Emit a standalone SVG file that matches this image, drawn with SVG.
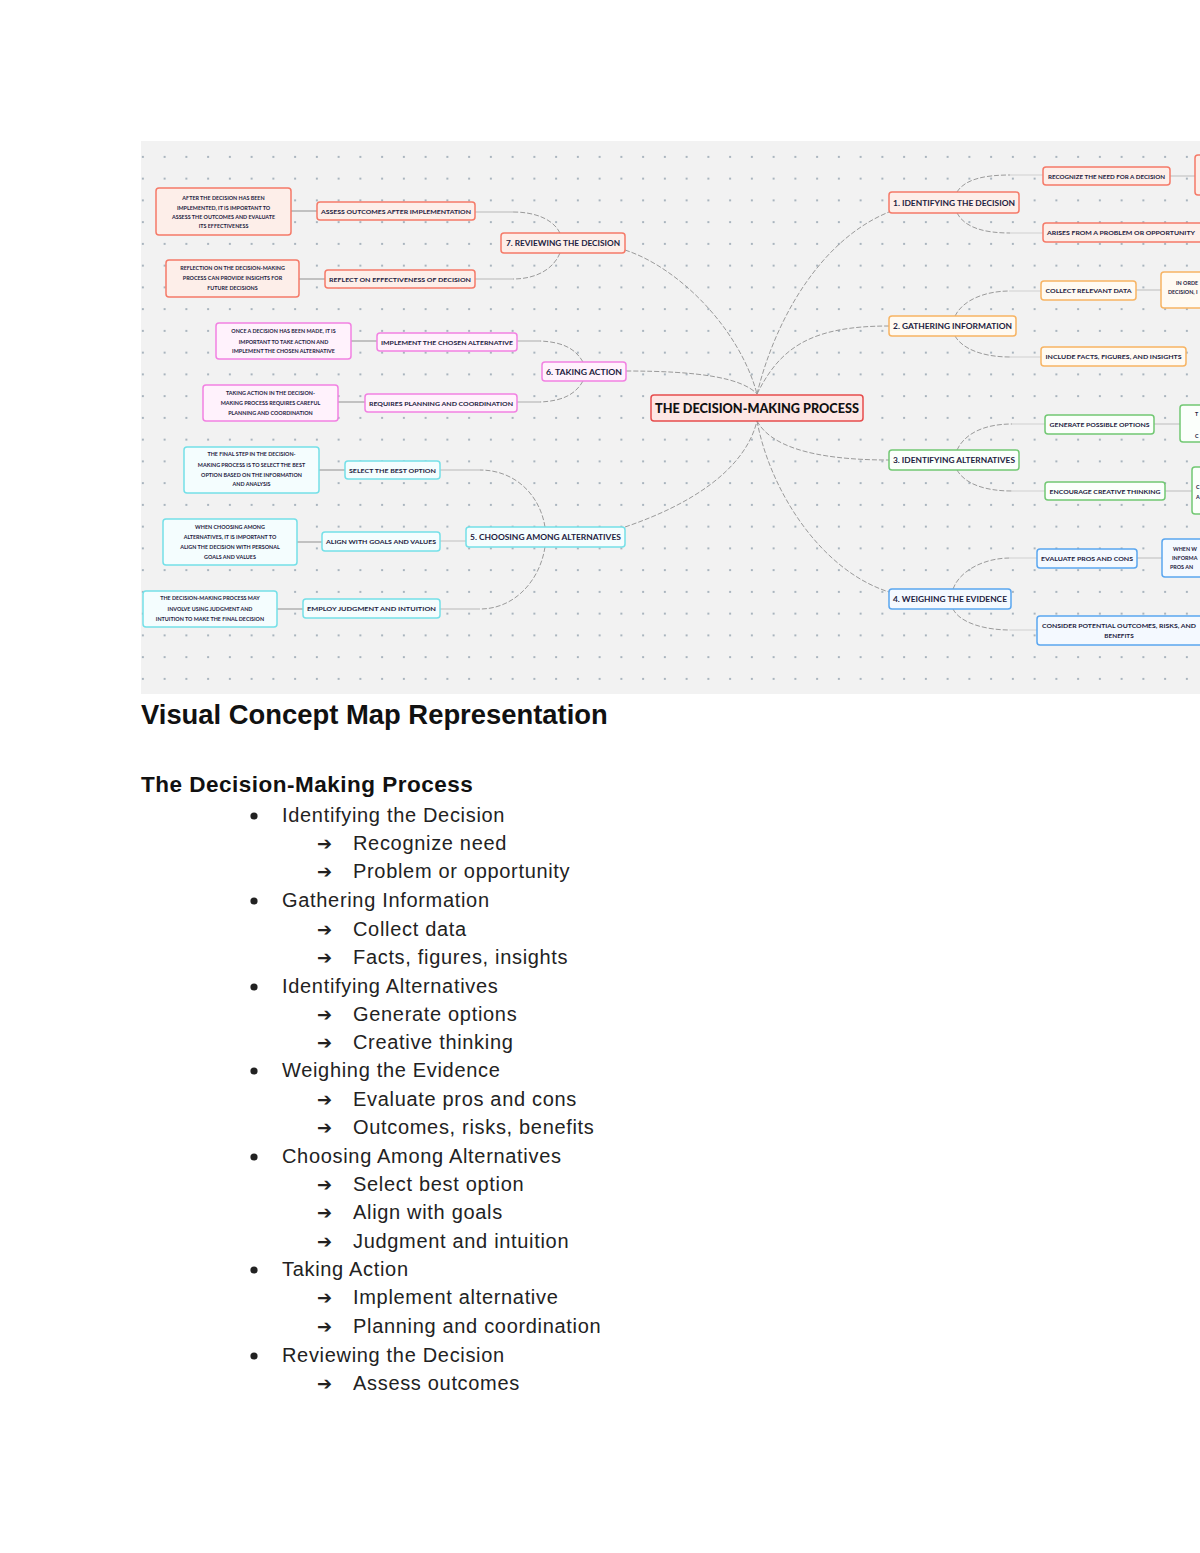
<svg xmlns="http://www.w3.org/2000/svg" width="1200" height="1553" viewBox="0 0 1200 1553">
<defs>
<pattern id="dots" x="132" y="146" width="21.75" height="21.75" patternUnits="userSpaceOnUse">
<circle cx="10.875" cy="10.875" r="1.1" fill="#98a6b2"/>
</pattern>
<clipPath id="mapclip"><rect x="141" y="141" width="1059" height="553"/></clipPath>
</defs>
<style>
.lbl{font-family:Lato,"Noto Sans","DejaVu Sans",sans-serif;font-weight:bold;fill:#1c2140;text-anchor:middle}
.main{font-size:7.5px}
.sub{font-size:6.4px}
.desc{font-size:5.4px}
.center{font-size:12.5px;font-weight:900;fill:#111}
.red rect{fill:#fdeee9;stroke:#f57a68;stroke-width:1.5}
.ora rect{fill:#fffaf2;stroke:#f7b463;stroke-width:1.5}
.grn rect{fill:#fbfffb;stroke:#72c873;stroke-width:1.5}
.blu rect{fill:#f4f9ff;stroke:#5aa6f0;stroke-width:1.5}
.cya rect{fill:#f4fdfe;stroke:#74e0e8;stroke-width:1.5}
.mag rect{fill:#fff2fc;stroke:#f281e2;stroke-width:1.5}
.cen rect{fill:#fde6e4;stroke:#e64c4c;stroke-width:1.5}
.dash{fill:none;stroke:#9a9a9a;stroke-width:1;stroke-dasharray:5 2}
.solid{fill:none;stroke:#b4b4b4;stroke-width:1.6}
.thin{fill:none;stroke:#d0d0d0;stroke-width:1}
.mid{fill:none;stroke:#b8b8b8;stroke-width:1.2}
.doc{font-family:"Liberation Sans",Arial,sans-serif;fill:#222}
.h1{font-size:27.4px;font-weight:bold;fill:#111}
.h2{font-size:22.5px;font-weight:bold;fill:#111;letter-spacing:0.5px}
.li{font-size:20px;letter-spacing:0.68px}
.arr{font-family:"DejaVu Sans",sans-serif;font-size:18px;fill:#222}
</style>
<rect width="1200" height="1553" fill="#ffffff"/>
<g clip-path="url(#mapclip)">
<rect x="141" y="141" width="1059" height="553" fill="#f2f2f2"/>
<rect x="141" y="141" width="1059" height="553" fill="url(#dots)"/>

<g id="connectors">
<path class="dash" d="M625,250 C680,268 740,330 757,394"/>
<path class="dash" d="M626,371 C700,371 742,378 757,394"/>
<path class="dash" d="M757,394 C775,320 820,240 889,212"/>
<path class="dash" d="M757,394 C780,348 810,326 889,326"/>
<path class="dash" d="M625,527 C690,505 745,470 757,421"/>
<path class="dash" d="M757,421 C770,445 810,460 889,460"/>
<path class="dash" d="M757,421 C770,490 820,570 889,592"/>
<path class="dash" d="M957,192 C965,179 985,175 1010,175"/><path class="thin" d="M1010,175 L1043,175"/>
<path class="dash" d="M957,213 C965,228 985,233 1010,233"/><path class="thin" d="M1010,233 L1043,233"/>
<path class="dash" d="M955,316 C963,300 985,291 1010,291"/><path class="thin" d="M1010,291 L1041,291"/>
<path class="dash" d="M955,336 C963,350 985,357 1010,357"/><path class="thin" d="M1010,357 L1041,357"/>
<path class="dash" d="M957,450 C965,433 985,424 1012,424"/><path class="thin" d="M1012,424 L1045,424"/>
<path class="dash" d="M957,470 C965,484 985,491 1012,491"/><path class="thin" d="M1012,491 L1045,491"/>
<path class="dash" d="M953,589 C960,570 985,558 1010,558"/><path class="thin" d="M1010,558 L1037,558"/>
<path class="dash" d="M953,609 C960,623 985,630 1010,630"/><path class="thin" d="M1010,630 L1037,630"/>
<path class="dash" d="M560,233 C553,219 535,212 513,212"/><path class="mid" d="M513,212 L475,212"/>
<path class="dash" d="M560,253 C553,270 535,279 513,279"/><path class="mid" d="M513,279 L475,279"/>
<path class="dash" d="M583,362 C575,348 562,342 540,341"/><path class="mid" d="M540,341 L517,341"/>
<path class="dash" d="M583,381 C575,395 562,401 540,402"/><path class="mid" d="M540,402 L517,402"/>
<path class="dash" d="M545,527 C540,495 515,470 480,470"/><path class="mid" d="M480,470 L440,470"/>
<path class="dash" d="M545,547 C540,580 515,609 480,609"/><path class="mid" d="M480,609 L440,609"/>
<path class="mid" d="M466,541 L440,541" style="stroke:#c8c8c8"/>
<path class="solid" d="M317,211 L291,211"/>
<path class="solid" d="M325,279 L299,279"/>
<path class="solid" d="M377,341 L351,341"/>
<path class="solid" d="M365,402 L338,402"/>
<path class="solid" d="M345,470 L319,470"/>
<path class="solid" d="M322,542 L297,542"/>
<path class="solid" d="M303,609 L277,609"/>
<path class="solid" d="M1169,176 L1195,176" style="stroke:#d0d0d0"/>
<path class="solid" d="M1136,290 L1161,290" style="stroke:#d0d0d0"/>
<path class="solid" d="M1154,424 L1180,424" style="stroke:#d0d0d0"/>
<path class="solid" d="M1165,491 L1192,491" style="stroke:#d0d0d0"/>
<path class="solid" d="M1137,558 L1162,558" style="stroke:#d0d0d0"/>
</g>

<g id="center" class="cen"><rect x="651" y="395" width="212" height="26" rx="3"/><text class="lbl center" x="757" y="412.5" textLength="204" lengthAdjust="spacingAndGlyphs">THE DECISION-MAKING PROCESS</text></g>

<g id="n1" class="red"><rect x="889" y="192" width="130" height="21" rx="3"/><text class="lbl main" x="954" y="205.5" textLength="122" lengthAdjust="spacingAndGlyphs">1. IDENTIFYING THE DECISION</text></g>
<g id="n1a" class="red"><rect x="1043" y="167" width="127" height="18" rx="3"/><text class="lbl sub" x="1106.5" y="178.5" textLength="117" lengthAdjust="spacingAndGlyphs">RECOGNIZE THE NEED FOR A DECISION</text></g>
<g id="n1b" class="red"><rect x="1043" y="223" width="170" height="19" rx="3"/><text class="lbl sub" x="1121" y="235" textLength="148" lengthAdjust="spacingAndGlyphs">ARISES FROM A PROBLEM OR OPPORTUNITY</text></g>
<g id="n1d" class="red"><rect x="1195" y="155" width="60" height="40" rx="3"/></g>

<g id="n2" class="ora"><rect x="889" y="316" width="127" height="20" rx="3"/><text class="lbl main" x="952.5" y="329" textLength="119" lengthAdjust="spacingAndGlyphs">2. GATHERING INFORMATION</text></g>
<g id="n2a" class="ora"><rect x="1041" y="281" width="95" height="19" rx="3"/><text class="lbl sub" x="1088.5" y="293" textLength="86" lengthAdjust="spacingAndGlyphs">COLLECT RELEVANT DATA</text></g>
<g id="n2b" class="ora"><rect x="1041" y="347" width="145" height="19" rx="3"/><text class="lbl sub" x="1113.5" y="359" textLength="136" lengthAdjust="spacingAndGlyphs">INCLUDE FACTS, FIGURES, AND INSIGHTS</text></g>
<g id="n2d" class="ora"><rect x="1161" y="272" width="120" height="36" rx="3"/><text class="lbl desc" x="1176" y="285" style="text-anchor:start">IN ORDE</text><text class="lbl desc" x="1168" y="294" style="text-anchor:start">DECISION, I</text></g>

<g id="n3" class="grn"><rect x="889" y="450" width="130" height="20" rx="3"/><text class="lbl main" x="954" y="463" textLength="122" lengthAdjust="spacingAndGlyphs">3. IDENTIFYING ALTERNATIVES</text></g>
<g id="n3a" class="grn"><rect x="1045" y="415" width="109" height="19" rx="3"/><text class="lbl sub" x="1099.5" y="427" textLength="100" lengthAdjust="spacingAndGlyphs">GENERATE POSSIBLE OPTIONS</text></g>
<g id="n3b" class="grn"><rect x="1045" y="482" width="120" height="18" rx="3"/><text class="lbl sub" x="1105" y="493.5" textLength="111" lengthAdjust="spacingAndGlyphs">ENCOURAGE CREATIVE THINKING</text></g>
<g id="n3d1" class="grn"><rect x="1180" y="405" width="80" height="37" rx="3"/><text class="lbl desc" x="1195" y="416" style="text-anchor:start">T</text><text class="lbl desc" x="1195" y="438" style="text-anchor:start">C</text></g>
<g id="n3d2" class="grn"><rect x="1192" y="467" width="80" height="47" rx="3"/><text class="lbl desc" x="1196" y="489" style="text-anchor:start">C</text><text class="lbl desc" x="1196" y="499" style="text-anchor:start">A</text></g>

<g id="n4" class="blu"><rect x="889" y="589" width="122" height="20" rx="3"/><text class="lbl main" x="950" y="602" textLength="114" lengthAdjust="spacingAndGlyphs">4. WEIGHING THE EVIDENCE</text></g>
<g id="n4a" class="blu"><rect x="1037" y="549" width="100" height="19" rx="3"/><text class="lbl sub" x="1087" y="561" textLength="92" lengthAdjust="spacingAndGlyphs">EVALUATE PROS AND CONS</text></g>
<g id="n4b" class="blu"><rect x="1037" y="616" width="175" height="29" rx="3"/><text class="lbl sub" x="1119" y="628" textLength="154" lengthAdjust="spacingAndGlyphs">CONSIDER POTENTIAL OUTCOMES, RISKS, AND</text><text class="lbl sub" x="1119" y="638">BENEFITS</text></g>
<g id="n4d" class="blu"><rect x="1162" y="539" width="120" height="38" rx="3"/><text class="lbl desc" x="1173" y="551" style="text-anchor:start">WHEN W</text><text class="lbl desc" x="1172" y="560" style="text-anchor:start">INFORMA</text><text class="lbl desc" x="1170" y="569" style="text-anchor:start">PROS AN</text></g>

<g id="n5" class="cya"><rect x="466" y="527" width="159" height="20" rx="3"/><text class="lbl main" x="545.5" y="540" textLength="151" lengthAdjust="spacingAndGlyphs">5. CHOOSING AMONG ALTERNATIVES</text></g>
<g id="n5a" class="cya"><rect x="345" y="461" width="95" height="18" rx="3"/><text class="lbl sub" x="392.5" y="472.5" textLength="87" lengthAdjust="spacingAndGlyphs">SELECT THE BEST OPTION</text></g>
<g id="n5b" class="cya"><rect x="322" y="532" width="118" height="19" rx="3"/><text class="lbl sub" x="381" y="544" textLength="110" lengthAdjust="spacingAndGlyphs">ALIGN WITH GOALS AND VALUES</text></g>
<g id="n5c" class="cya"><rect x="303" y="599" width="137" height="19" rx="3"/><text class="lbl sub" x="371.5" y="611" textLength="129" lengthAdjust="spacingAndGlyphs">EMPLOY JUDGMENT AND INTUITION</text></g>
<g id="n5d1" class="cya"><rect x="184" y="447" width="135" height="46" rx="3"/><text class="lbl desc" x="251.5" y="456">THE FINAL STEP IN THE DECISION-</text><text class="lbl desc" x="251.5" y="467">MAKING PROCESS IS TO SELECT THE BEST</text><text class="lbl desc" x="251.5" y="477">OPTION BASED ON THE INFORMATION</text><text class="lbl desc" x="251.5" y="486">AND ANALYSIS</text></g>
<g id="n5d2" class="cya"><rect x="163" y="519" width="134" height="46" rx="3"/><text class="lbl desc" x="230" y="529">WHEN CHOOSING AMONG</text><text class="lbl desc" x="230" y="539">ALTERNATIVES, IT IS IMPORTANT TO</text><text class="lbl desc" x="230" y="549">ALIGN THE DECISION WITH PERSONAL</text><text class="lbl desc" x="230" y="559">GOALS AND VALUES</text></g>
<g id="n5d3" class="cya"><rect x="143" y="591" width="134" height="36" rx="3"/><text class="lbl desc" x="210" y="600">THE DECISION-MAKING PROCESS MAY</text><text class="lbl desc" x="210" y="611">INVOLVE USING JUDGMENT AND</text><text class="lbl desc" x="210" y="621">INTUITION TO MAKE THE FINAL DECISION</text></g>

<g id="n6" class="mag"><rect x="542" y="362" width="84" height="19" rx="3"/><text class="lbl main" x="584" y="374.5" textLength="76" lengthAdjust="spacingAndGlyphs">6. TAKING ACTION</text></g>
<g id="n6a" class="mag"><rect x="377" y="333" width="140" height="18" rx="3"/><text class="lbl sub" x="447" y="344.5" textLength="132" lengthAdjust="spacingAndGlyphs">IMPLEMENT THE CHOSEN ALTERNATIVE</text></g>
<g id="n6b" class="mag"><rect x="365" y="394" width="152" height="18" rx="3"/><text class="lbl sub" x="441" y="405.5" textLength="144" lengthAdjust="spacingAndGlyphs">REQUIRES PLANNING AND COORDINATION</text></g>
<g id="n6d1" class="mag"><rect x="216" y="323" width="135" height="36" rx="3"/><text class="lbl desc" x="283.5" y="333">ONCE A DECISION HAS BEEN MADE, IT IS</text><text class="lbl desc" x="283.5" y="344">IMPORTANT TO TAKE ACTION AND</text><text class="lbl desc" x="283.5" y="353">IMPLEMENT THE CHOSEN ALTERNATIVE</text></g>
<g id="n6d2" class="mag"><rect x="203" y="385" width="135" height="36" rx="3"/><text class="lbl desc" x="270.5" y="395">TAKING ACTION IN THE DECISION-</text><text class="lbl desc" x="270.5" y="405">MAKING PROCESS REQUIRES CAREFUL</text><text class="lbl desc" x="270.5" y="415">PLANNING AND COORDINATION</text></g>

<g id="n7" class="red"><rect x="501" y="233" width="124" height="20" rx="3"/><text class="lbl main" x="563" y="246" textLength="114" lengthAdjust="spacingAndGlyphs">7. REVIEWING THE DECISION</text></g>
<g id="n7a" class="red"><rect x="317" y="202" width="158" height="18" rx="3"/><text class="lbl sub" x="396" y="213.5" textLength="150" lengthAdjust="spacingAndGlyphs">ASSESS OUTCOMES AFTER IMPLEMENTATION</text></g>
<g id="n7b" class="red"><rect x="325" y="270" width="150" height="18" rx="3"/><text class="lbl sub" x="400" y="281.5" textLength="142" lengthAdjust="spacingAndGlyphs">REFLECT ON EFFECTIVENESS OF DECISION</text></g>
<g id="n7d1" class="red"><rect x="156" y="188" width="135" height="47" rx="3"/><text class="lbl desc" x="223.5" y="200">AFTER THE DECISION HAS BEEN</text><text class="lbl desc" x="223.5" y="210">IMPLEMENTED, IT IS IMPORTANT TO</text><text class="lbl desc" x="223.5" y="219">ASSESS THE OUTCOMES AND EVALUATE</text><text class="lbl desc" x="223.5" y="228">ITS EFFECTIVENESS</text></g>
<g id="n7d2" class="red"><rect x="166" y="260" width="133" height="37" rx="3"/><text class="lbl desc" x="232.5" y="270">REFLECTION ON THE DECISION-MAKING</text><text class="lbl desc" x="232.5" y="280">PROCESS CAN PROVIDE INSIGHTS FOR</text><text class="lbl desc" x="232.5" y="290">FUTURE DECISIONS</text></g>
</g>

<g id="document">
<text class="doc h1" x="141" y="724">Visual Concept Map Representation</text>
<text class="doc h2" x="141" y="792">The Decision-Making Process</text>
<g fill="#222">
<circle cx="254" cy="816" r="3.6"/><circle cx="254" cy="901" r="3.6"/><circle cx="254" cy="987" r="3.6"/><circle cx="254" cy="1071" r="3.6"/><circle cx="254" cy="1157" r="3.6"/><circle cx="254" cy="1270" r="3.6"/><circle cx="254" cy="1356" r="3.6"/>
</g>
<text class="doc li" x="282" y="822">Identifying the Decision</text>
<text class="arr" x="317" y="850">➔</text><text class="doc li" x="353" y="850">Recognize need</text>
<text class="arr" x="317" y="878">➔</text><text class="doc li" x="353" y="878">Problem or opportunity</text>
<text class="doc li" x="282" y="907">Gathering Information</text>
<text class="arr" x="317" y="936">➔</text><text class="doc li" x="353" y="936">Collect data</text>
<text class="arr" x="317" y="964">➔</text><text class="doc li" x="353" y="964">Facts, figures, insights</text>
<text class="doc li" x="282" y="993">Identifying Alternatives</text>
<text class="arr" x="317" y="1021">➔</text><text class="doc li" x="353" y="1021">Generate options</text>
<text class="arr" x="317" y="1049">➔</text><text class="doc li" x="353" y="1049">Creative thinking</text>
<text class="doc li" x="282" y="1077">Weighing the Evidence</text>
<text class="arr" x="317" y="1106">➔</text><text class="doc li" x="353" y="1106">Evaluate pros and cons</text>
<text class="arr" x="317" y="1134">➔</text><text class="doc li" x="353" y="1134">Outcomes, risks, benefits</text>
<text class="doc li" x="282" y="1163">Choosing Among Alternatives</text>
<text class="arr" x="317" y="1191">➔</text><text class="doc li" x="353" y="1191">Select best option</text>
<text class="arr" x="317" y="1219">➔</text><text class="doc li" x="353" y="1219">Align with goals</text>
<text class="arr" x="317" y="1248">➔</text><text class="doc li" x="353" y="1248">Judgment and intuition</text>
<text class="doc li" x="282" y="1276">Taking Action</text>
<text class="arr" x="317" y="1304">➔</text><text class="doc li" x="353" y="1304">Implement alternative</text>
<text class="arr" x="317" y="1333">➔</text><text class="doc li" x="353" y="1333">Planning and coordination</text>
<text class="doc li" x="282" y="1362">Reviewing the Decision</text>
<text class="arr" x="317" y="1390">➔</text><text class="doc li" x="353" y="1390">Assess outcomes</text>
</g>
</svg>
